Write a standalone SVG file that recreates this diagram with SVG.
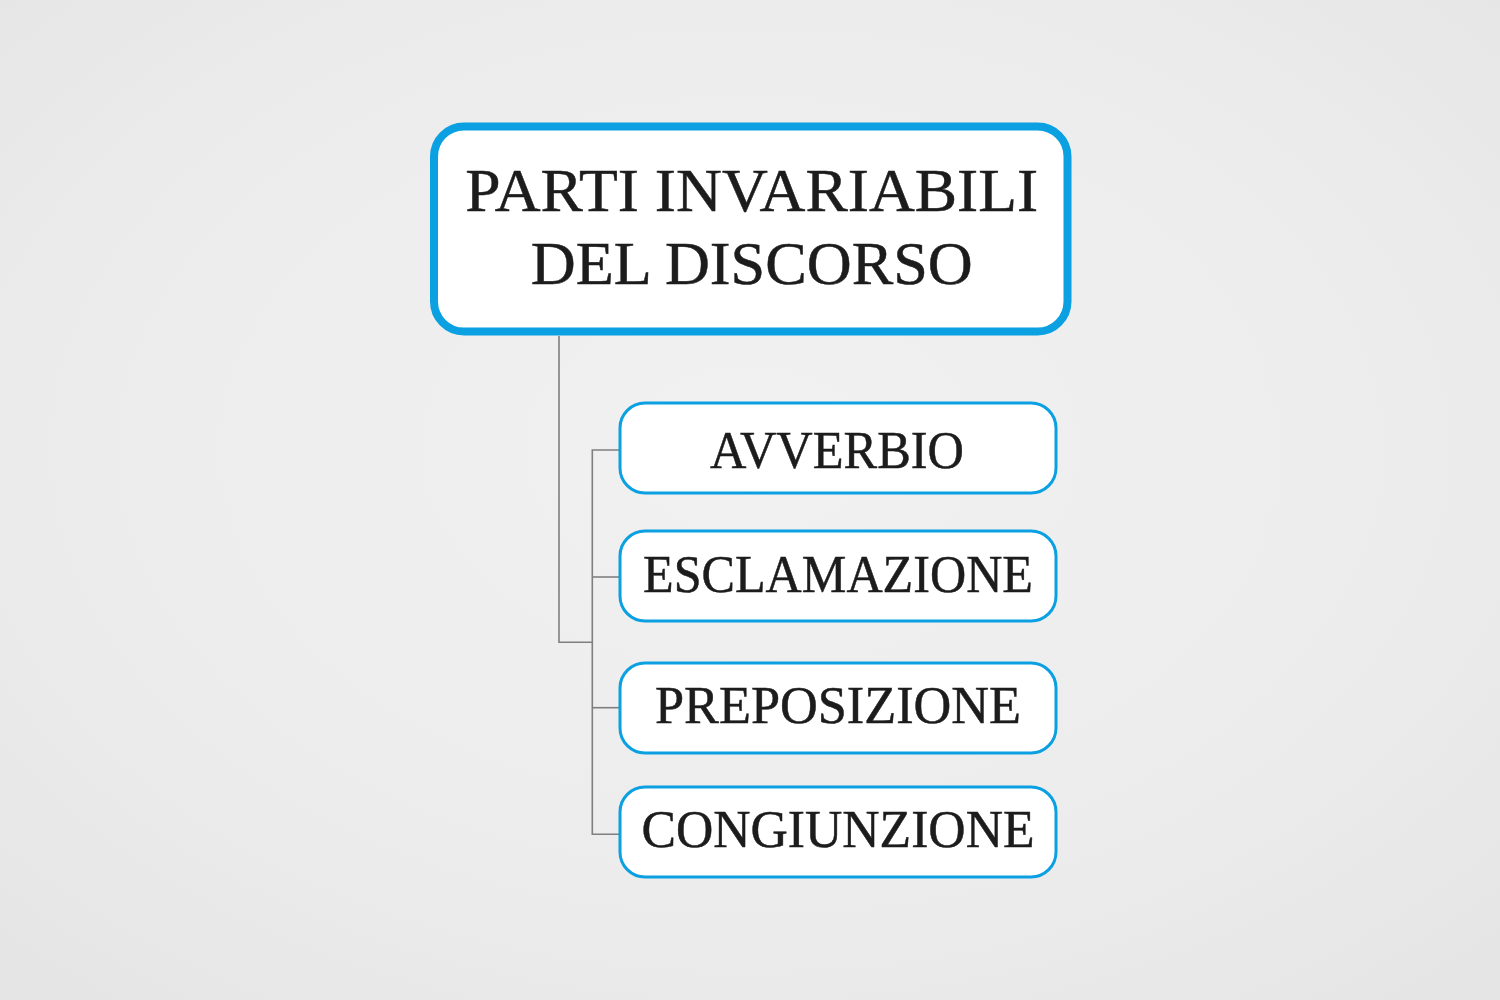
<svg xmlns="http://www.w3.org/2000/svg" width="1500" height="1000" viewBox="0 0 1500 1000">
<defs>
<radialGradient id="bg" cx="50%" cy="45%" r="75%">
<stop offset="0" stop-color="#f1f1f1"/>
<stop offset="0.6" stop-color="#ececec"/>
<stop offset="1" stop-color="#e4e4e4"/>
</radialGradient>
<style>
.main{fill:#ffffff;stroke:#0aa0e2;stroke-width:8}
.child{fill:#ffffff;stroke:#0aa0e2;stroke-width:3}
.t{font-family:"Liberation Serif","Times New Roman",serif;fill:#1c1c1c;stroke:#1c1c1c;stroke-width:0.5;text-anchor:middle}
.conn{fill:none;stroke:#7f7f7f;stroke-width:1.6}
</style>
</defs>
<rect x="0" y="0" width="1500" height="1000" fill="url(#bg)"/>
<g id="connectors">
<path class="conn" d="M559 336 V642.3 H592.3"/>
<path class="conn" d="M620 450 H592.3 V834.3 H620"/>
<path class="conn" d="M592.3 577 H620"/>
<path class="conn" d="M592.3 707.7 H620"/>
</g>
<g id="node-root">
<rect class="main" x="434" y="126.5" width="633.5" height="205" rx="30" ry="30"/>
<text class="t" x="751.7" y="210.7" font-size="62" textLength="573" lengthAdjust="spacingAndGlyphs">PARTI INVARIABILI</text>
<text class="t" x="751.7" y="284" font-size="62" textLength="442" lengthAdjust="spacingAndGlyphs">DEL DISCORSO</text>
</g>
<g id="node-avverbio">
<rect class="child" x="620" y="403" width="436" height="90" rx="25" ry="25"/>
<text class="t" x="837" y="467.5" font-size="53" textLength="254" lengthAdjust="spacingAndGlyphs">AVVERBIO</text>
</g>
<g id="node-esclamazione">
<rect class="child" x="620" y="531" width="436" height="90" rx="25" ry="25"/>
<text class="t" x="838" y="591.7" font-size="52" textLength="390" lengthAdjust="spacingAndGlyphs">ESCLAMAZIONE</text>
</g>
<g id="node-preposizione">
<rect class="child" x="620" y="663" width="436" height="90" rx="25" ry="25"/>
<text class="t" x="838" y="722.7" font-size="52" textLength="366" lengthAdjust="spacingAndGlyphs">PREPOSIZIONE</text>
</g>
<g id="node-congiunzione">
<rect class="child" x="620" y="787" width="436" height="90" rx="25" ry="25"/>
<text class="t" x="838" y="846.7" font-size="52" textLength="393" lengthAdjust="spacingAndGlyphs">CONGIUNZIONE</text>
</g>
</svg>
